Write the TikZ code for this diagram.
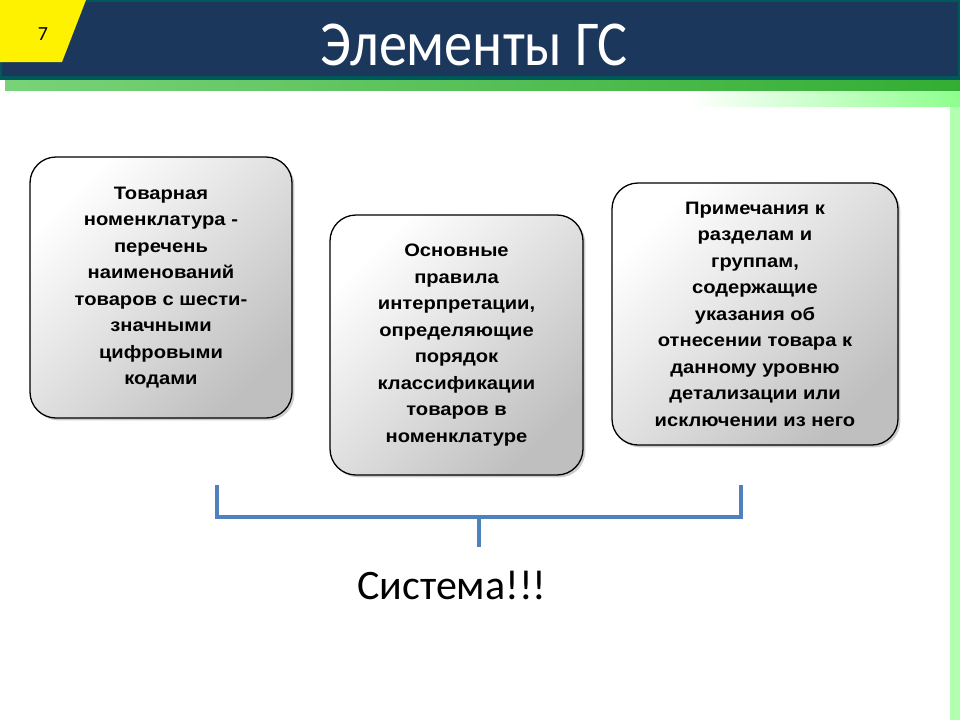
\documentclass[tikz,border=0pt]{standalone}
\usepackage{fontspec}
\setmainfont{Carlito}
\newfontfamily\boxfont[FakeStretch=1.12]{Liberation Sans}
\newfontfamily\titlefont[FakeStretch=0.88]{Carlito}
\usetikzlibrary{shadows}
\definecolor{navy}{RGB}{27,56,92}
\definecolor{brkc}{RGB}{79,129,189}
\begin{document}
\begin{tikzpicture}[x=1pt,y=-1pt,
  box/.style={draw=black,line width=1.3pt,rounded corners=26pt,left color=white,right color=gray!50,shading angle=45,drop shadow={opacity=0.4},align=center,font=\boxfont\bfseries\fontsize{18}{26.5}\selectfont},
  brk/.style={draw=brkc,line width=4pt}]
\useasboundingbox (0,0) rectangle (960,720);
\fill[white] (0,0) rectangle (960,720);
\fill[green!30] (950,95) rectangle (960,720);
\shade[left color=white,right color=green!45] (690,88) rectangle (960,106);
\shade[left color=green!50!gray!70,right color=green!60!black!80] (5,80) rectangle (960,90);
\fill[teal!70!black] (0,0) rectangle (960,80);
\fill[navy] (2,2) rectangle (958,76);
\fill[yellow] (30,0) -- (86,0) -- (62,62) -- (0,62) -- (0,0) -- cycle;
\node (num) at (43,34) {\fontsize{20}{22}\selectfont 7};
\node[text=white] (title) at (474,45) {\titlefont\fontsize{64}{66}\selectfont Элементы ГС};
\node[box,minimum width=262pt,minimum height=261pt] (b1) at (161,287.5) {Товарная\\номенклатура -\\перечень\\наименований\\товаров с шести-\\значными\\цифровыми\\кодами};
\node[box,minimum width=253pt,minimum height=260pt] (b2) at (456.5,345) {Основные\\правила\\интерпретации,\\определяющие\\порядок\\классификации\\товаров в\\номенклатуре};
\node[box,minimum width=286pt,minimum height=262pt] (b3) at (755,314) {Примечания к\\разделам и\\группам,\\содержащие\\указания об\\отнесении товара к\\данному уровню\\детализации или\\исключении из него};
\coordinate (l) at (217,485); \coordinate (r) at (741,485); \coordinate (m) at (479,547);
\draw[brk] (l) -- (217,517) -- (741,517) -- (r);
\draw[brk] (479,517) -- (m);
\node (sys) at (452,585) {\fontsize{42}{46}\selectfont Система!!!};
\end{tikzpicture}
\end{document}
